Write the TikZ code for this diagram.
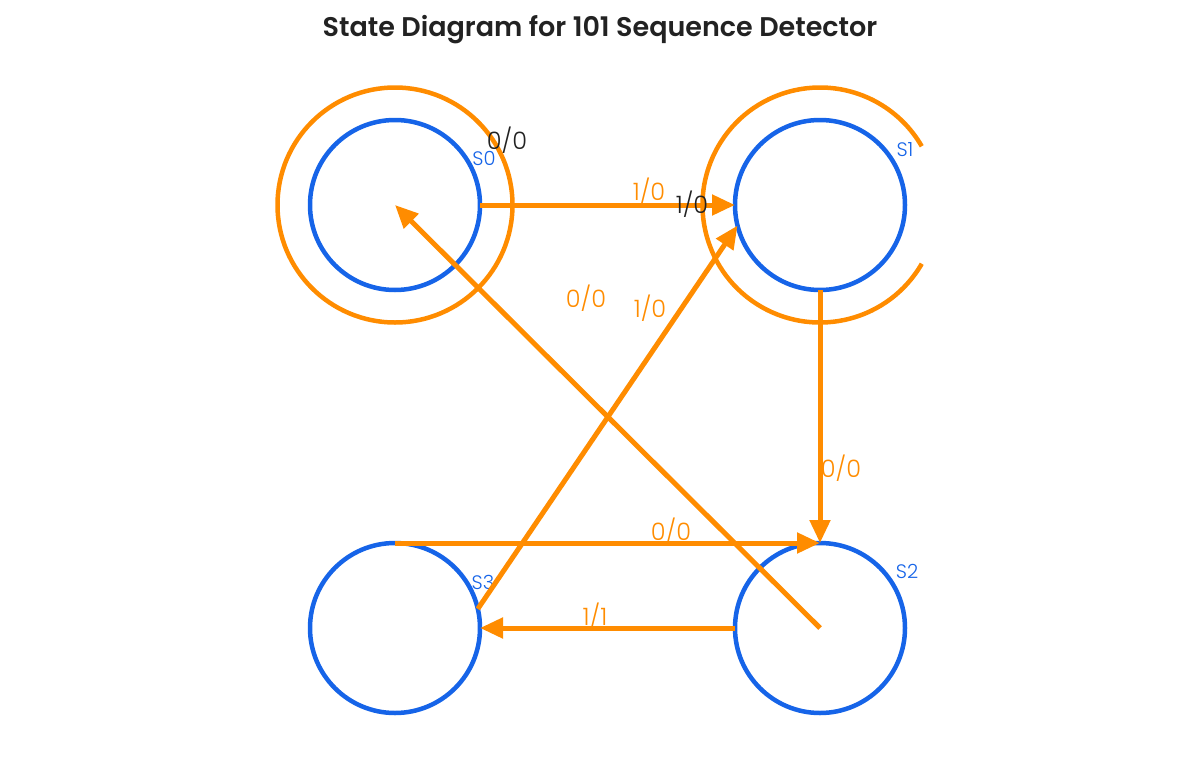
\documentclass[tikz,border=0pt]{standalone}
\usepackage{fontspec}
\setmainfont{Poppins}
\newfontfamily\titlefont{Poppins SemiBold}
\newfontfamily\lightfont{Poppins Light}
\usetikzlibrary{arrows.meta}
\definecolor{orng}{RGB}{255,140,0}
\definecolor{blu}{RGB}{22,100,232}
\definecolor{ink}{RGB}{34,34,34}
\tikzset{
  statenode/.style={circle,draw=blu,line width=4.5pt,minimum size=170pt,inner sep=0pt,outer sep=0pt},
  ring/.style={draw=orng,line width=4.5pt},
  edge/.style={draw=orng,line width=5pt,-{Triangle[length=23pt,width=20pt]}},
  elabel/.style={text=orng,font=\lightfont\fontsize{24}{28}\selectfont,inner sep=0pt},
  blabel/.style={text=ink,font=\lightfont\fontsize{24}{28}\selectfont,inner sep=0pt},
  slabel/.style={text=blu,font=\lightfont\fontsize{19.5}{22}\selectfont,inner sep=0pt},
}
\begin{document}
\begin{tikzpicture}[x=1pt,y=-1pt]
\useasboundingbox (0,0) rectangle (1200,763);
\node[text=ink,font=\titlefont\fontsize{27}{31}\selectfont] (title) at (600,30) {State Diagram for 101 Sequence Detector};
% orange rings
\coordinate (c0) at (395,205);
\coordinate (c1) at (820,205);
\draw[ring] (c0) circle[radius=117.5];
\draw[ring] ([shift={(30:117.5)}]c1) arc[start angle=30,end angle=330,radius=117.5];
% states
\node[statenode] (s0) at (395,205) {};
\node[statenode] (s1) at (820,205) {};
\node[statenode] (s2) at (820,628) {};
\node[statenode] (s3) at (395,628) {};
\node[slabel] (l0) at (484,158) {S0};
\node[slabel] (l1) at (905,150) {S1};
\node[slabel] (l2) at (907,571) {S2};
\node[slabel] (l3) at (483,582) {S3};
% edges
\draw[edge] (s0.east) -- (s1.west);
\draw[edge] (s2.center) -- (s0.center);
\draw[edge] (s3.13) -- (s1.194);
\draw[edge] (s1.south) -- (s2.north);
\draw[edge] (s3.north) -- (s2.north);
\draw[edge] (s2.west) -- (s3.east);
% labels
\node[elabel] (e1) at (649,191) {1/0};
\node[blabel] (b1) at (692,204) {1/0};
\node[blabel] (b0) at (507,140) {0/0};
\node[elabel] (e2) at (586,298) {0/0};
\node[elabel] (e3) at (650,308) {1/0};
\node[elabel] (e4) at (841,468) {0/0};
\node[elabel] (e5) at (671,531) {0/0};
\node[elabel] (e6) at (595,616) {1/1};
\end{tikzpicture}
\end{document}
